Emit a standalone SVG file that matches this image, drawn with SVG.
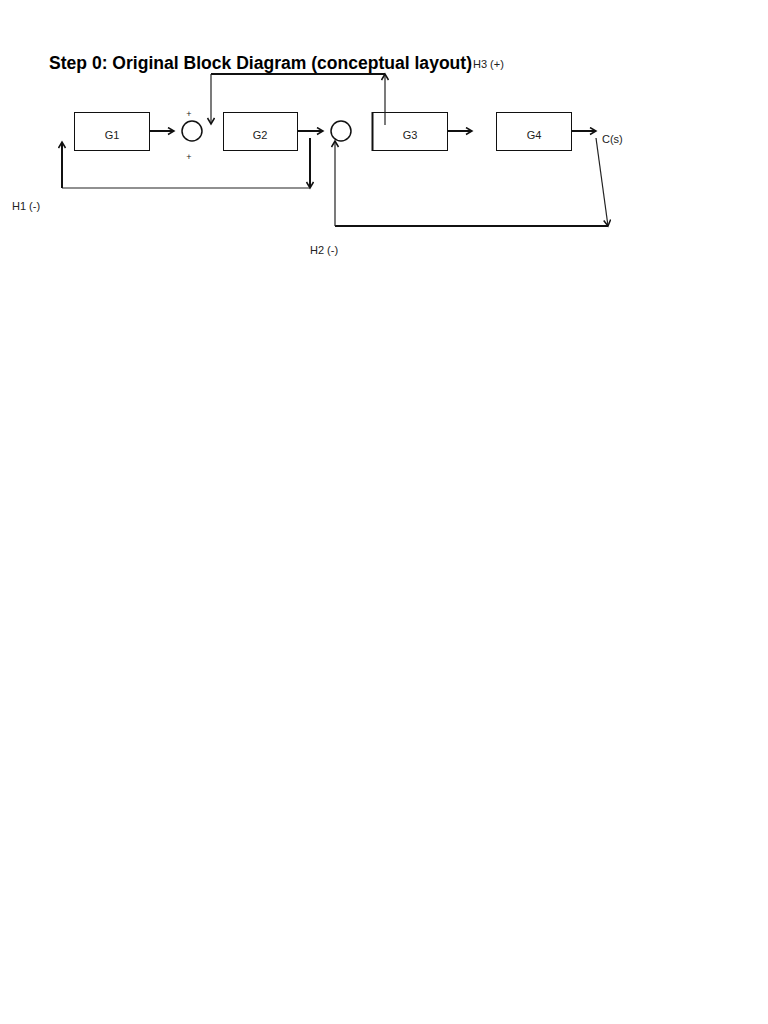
<svg xmlns="http://www.w3.org/2000/svg" width="768" height="1024" viewBox="0 0 768 1024">
<style>
.blk{fill:#fff;stroke:#111;stroke-width:1}
.sum{fill:#fff;stroke:#111;stroke-width:1.5}
.lbl{font-family:"Liberation Sans",Arial,sans-serif;font-size:11px;fill:#222}
.sml{font-family:"Liberation Sans",Arial,sans-serif;font-size:9px;fill:#222}
.w2{fill:none;stroke:#111;stroke-width:2}
.w1{fill:none;stroke:#222;stroke-width:1.2}
</style>
<defs>
<marker id="ah" markerUnits="userSpaceOnUse" markerWidth="10" markerHeight="10" refX="7" refY="4" orient="auto">
<path d="M1,0.5 L7,4 L1,7.5" fill="none" stroke="#111" stroke-width="1.5"/>
</marker>
</defs>
<rect width="768" height="1024" fill="#fff"/>
<text x="49" y="69" font-family="Liberation Sans,Arial,sans-serif" font-size="17.5" font-weight="bold" fill="#000" textLength="423" lengthAdjust="spacingAndGlyphs">Step 0: Original Block Diagram (conceptual layout)</text>
<g id="G1"><rect class="blk" x="74.5" y="112.5" width="75" height="38"/><text class="lbl" x="112" y="139" text-anchor="middle">G1</text></g>
<g id="S1"><circle class="sum" cx="192" cy="131" r="10"/><text class="sml" x="189" y="117" text-anchor="middle">+</text><text class="sml" x="189" y="160" text-anchor="middle">+</text></g>
<g id="G2"><rect class="blk" x="223.5" y="112.5" width="74" height="38"/><text class="lbl" x="260" y="139" text-anchor="middle">G2</text></g>
<g id="S2"><circle class="sum" cx="341" cy="131" r="10"/></g>
<g id="G3"><rect class="blk" x="372.5" y="112.5" width="75" height="38"/><line x1="372.5" y1="112" x2="372.5" y2="151" stroke="#111" stroke-width="2"/><text class="lbl" x="410" y="139" text-anchor="middle">G3</text></g>
<g id="G4"><rect class="blk" x="496.5" y="112.5" width="75" height="38"/><text class="lbl" x="534" y="139" text-anchor="middle">G4</text></g>
<g id="connectors">
<line class="w2" x1="149" y1="131" x2="174" y2="131" marker-end="url(#ah)"/>
<line class="w2" x1="297" y1="131" x2="323" y2="131" marker-end="url(#ah)"/>
<line class="w2" x1="447" y1="131" x2="472" y2="131" marker-end="url(#ah)"/>
<line class="w2" x1="571" y1="131" x2="596" y2="131" marker-end="url(#ah)"/>
<line class="w1" x1="385" y1="125" x2="385" y2="74" marker-end="url(#ah)"/>
<line class="w2" x1="385" y1="74" x2="211" y2="74"/>
<line class="w1" x1="211" y1="74" x2="211" y2="124" marker-end="url(#ah)"/>
<line class="w2" x1="310" y1="138" x2="310" y2="188" marker-end="url(#ah)"/>
<line class="w1" x1="310" y1="188" x2="62" y2="188"/>
<line class="w2" x1="62" y1="188" x2="62" y2="142" marker-end="url(#ah)"/>
<line class="w1" x1="596" y1="138" x2="608" y2="226" marker-end="url(#ah)"/>
<line class="w2" x1="608" y1="226" x2="335" y2="226"/>
<line class="w1" x1="335" y1="226" x2="335" y2="141" marker-end="url(#ah)"/>
</g>
<text class="lbl" x="12" y="210">H1 (-)</text>
<text class="lbl" x="310" y="254">H2 (-)</text>
<text class="lbl" x="473" y="68">H3 (+)</text>
<text class="lbl" x="602" y="143">C(s)</text>
</svg>
